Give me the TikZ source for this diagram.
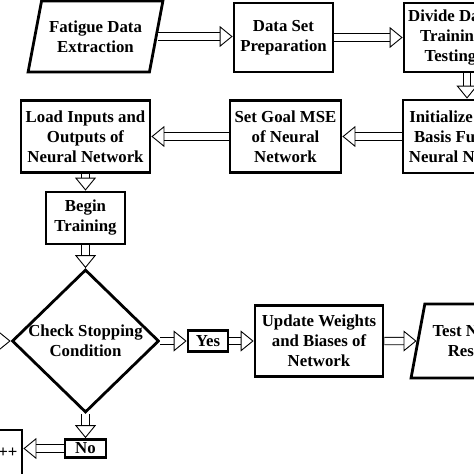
\documentclass[tikz,border=0pt]{standalone}
\usepackage{fontspec}
\setmainfont{Liberation Serif}
\usetikzlibrary{shapes.geometric,arrows.meta}
\tikzset{
  blk/.style={draw,line width=2.8pt,align=center,inner sep=0pt,
    font=\bfseries\fontsize{16.8}{20}\selectfont},
  para/.style={blk,trapezium,trapezium left angle=70,trapezium right angle=110,
    trapezium stretches=true},
  harrow/.style={line width=0.9pt,double distance=6.5pt,
    -{Triangle[open,length=13pt,width=21pt]}}
}
\begin{document}
\begin{tikzpicture}[x=1pt,y=-1pt]
\useasboundingbox (0,0) rectangle (474,474);
\clip (0,0) rectangle (474,474);
\fill[white] (0,0) rectangle (474,474);
% first row
\node[para,minimum width=135pt,minimum height=71pt] (fat) at (95.5,36.5) {Fatigue Data\\Extraction};
\node[blk,minimum width=99pt,minimum height=69pt] (dsp) at (283.5,37.5) {Data Set\\Preparation};
\node[blk,minimum width=126pt,minimum height=69pt] (div) at (467,37.5) {Divide Data into\\Training and\\Testing Sets};
% second row
\node[blk,minimum width=128pt,minimum height=73pt] (init) at (467,136.5) {Initialize Radial\\Basis Function\\Neural Network};
\node[blk,minimum width=111pt,minimum height=72pt] (sgm) at (285.5,136.5) {Set Goal MSE\\of Neural\\Network};
\node[blk,minimum width=129pt,minimum height=72pt] (load) at (85.5,136.5) {Load Inputs and\\Outputs of\\Neural Network};
\node[blk,minimum width=79pt,minimum height=52pt] (bgn) at (85.5,218) {Begin\\Training};
% training loop
\node[blk,diamond,inner sep=-3pt,minimum width=147pt,minimum height=143pt] (chk) at (85.5,341) {Check Stopping\\Condition};
\node[blk,minimum width=40pt,minimum height=21pt] (yes) at (208,341) {Yes};
\node[blk,minimum width=128pt,minimum height=71pt] (upd) at (319,341) {Update Weights\\and Biases of\\Network};
\node[para,minimum width=126pt,minimum height=74pt] (tst) at (474,341) {Test Neural\\Results};
\node[blk,minimum width=41pt,minimum height=18pt] (no) at (85.5,448.5) {No};
\node[blk,minimum width=74pt,minimum height=46pt] (epo) at (-15,453) {Epoch++};
\coordinate (back) at (-40,341);
% connectors
\draw[harrow] (fat.east) -- (fat.east -| dsp.west);
\draw[harrow] (dsp.east) -- (div.west);
\draw[harrow] (div.south) -- (init.north);
\draw[harrow] (init.west) -- (sgm.east);
\draw[harrow] (sgm.west) -- (load.east);
\draw[harrow] (load.south) -- (bgn.north);
\draw[harrow] (bgn.south) -- (chk.north);
\draw[harrow] (back) -- (chk.west);
\draw[harrow] (chk.east) -- (yes.west);
\draw[harrow] (yes.east) -- (upd.west);
\draw[harrow] (upd.east) -- (tst.west);
\draw[harrow] (chk.south) -- (no.north);
\draw[harrow] (no.west) -- (no.west -| epo.east);
\end{tikzpicture}
\end{document}
